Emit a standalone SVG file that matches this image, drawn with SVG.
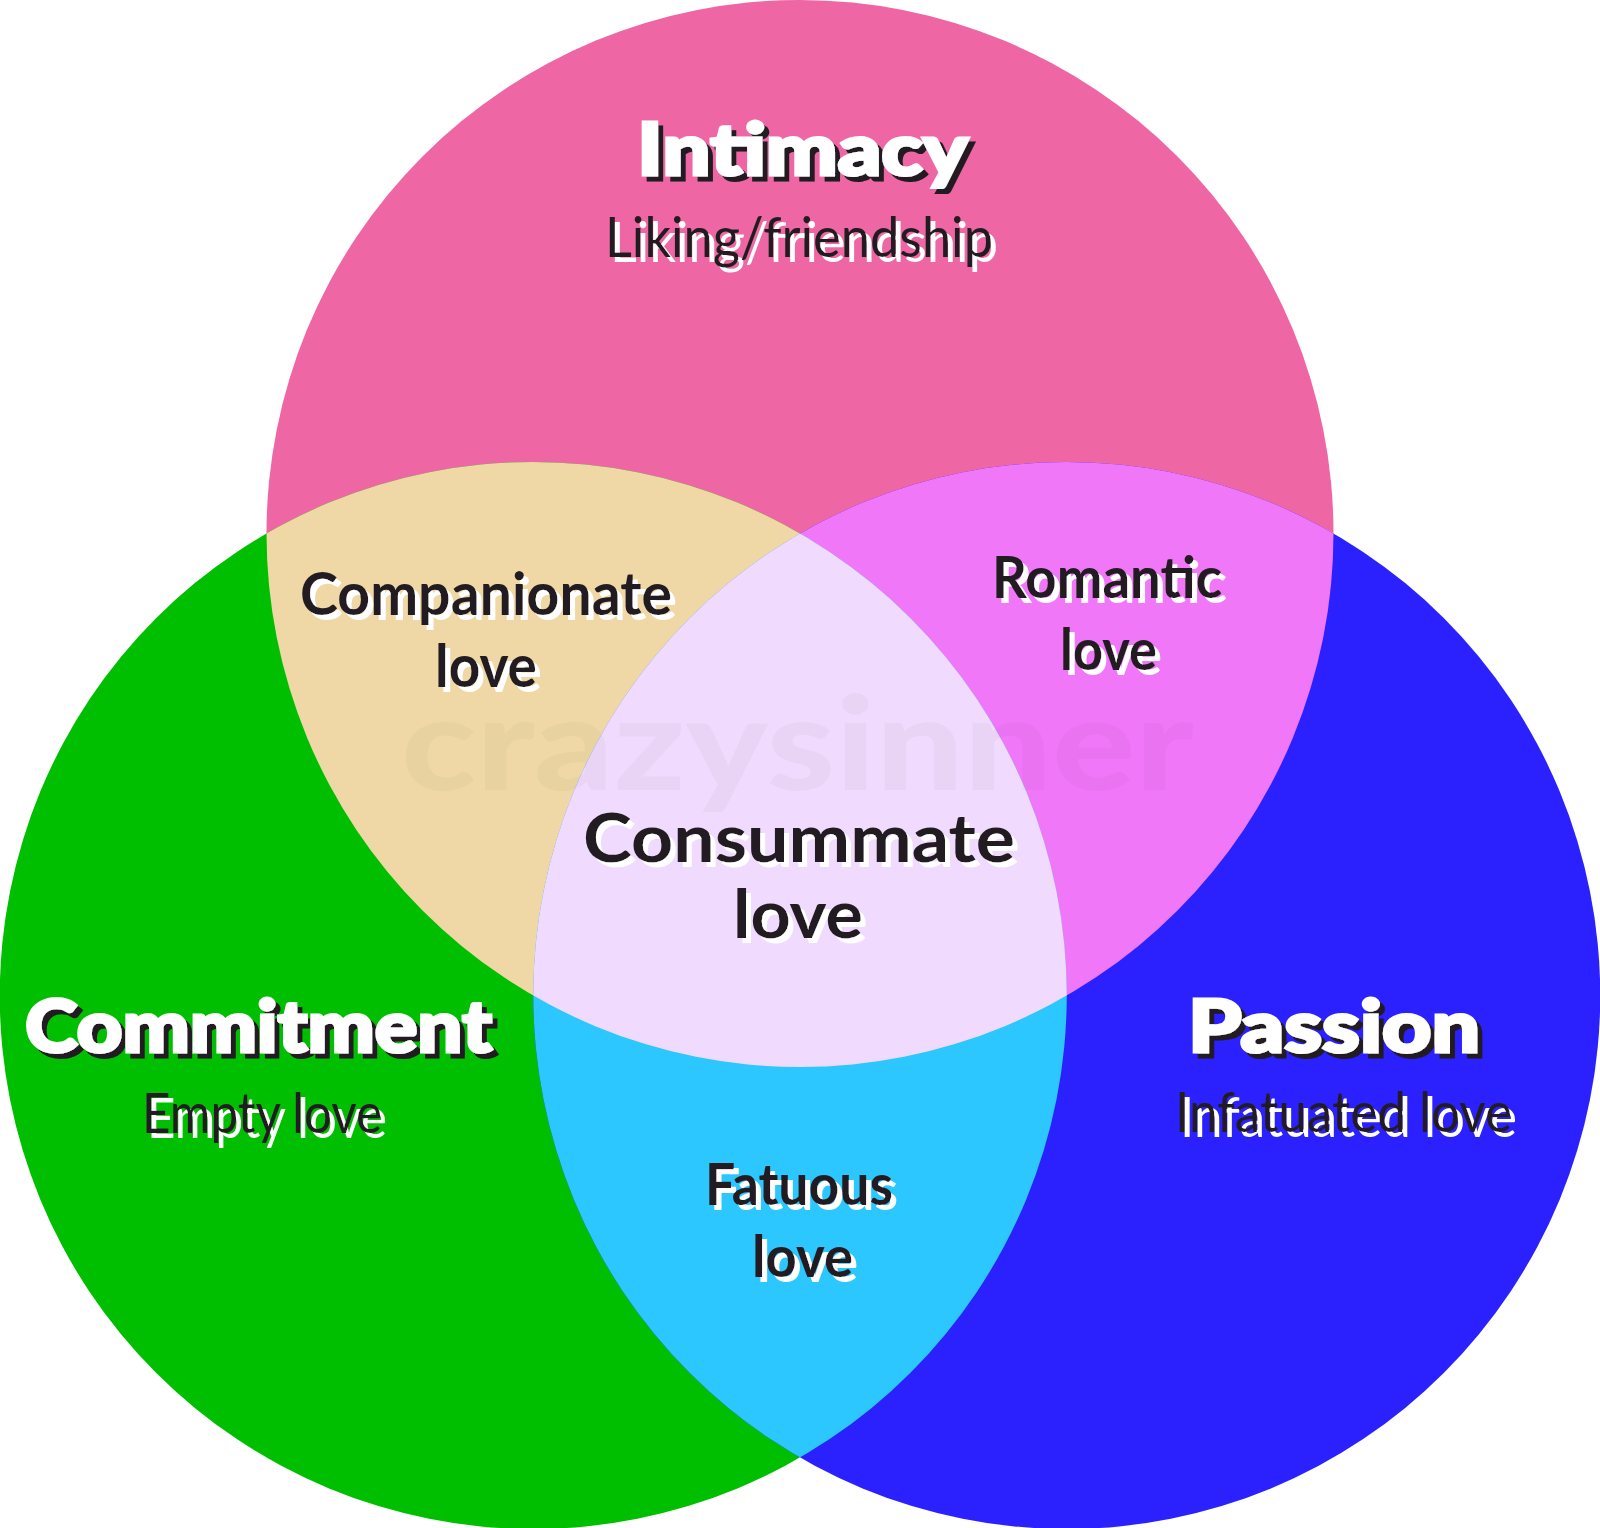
<svg xmlns="http://www.w3.org/2000/svg" width="1600" height="1528" viewBox="0 0 1600 1528">
  <style>
    .title { font-family: "Lato", "Liberation Sans", sans-serif; font-weight: 900; font-size: 72px; fill: #ffffff; stroke: #ffffff; stroke-width: 3px; filter: url(#shDark); }
    .sub { font-family: "Lato", "Liberation Sans", sans-serif; font-weight: 400; font-size: 57px; fill: #231f20; filter: url(#shLight); }
    .lbl { font-family: "Lato", "Liberation Sans", sans-serif; font-weight: 700; fill: #231f20; filter: url(#shLight); }
    .wm { font-family: "Lato", "Liberation Sans", sans-serif; font-weight: 900; font-size: 130px; fill: #000000; opacity: 0.022; }
  </style>
  <defs>
    <clipPath id="cTop"><circle cx="800" cy="533.5" r="533.5"/></clipPath>
    <clipPath id="cLeft"><circle cx="533.25" cy="995.5" r="533.5"/></clipPath>
    <filter id="shDark" x="-5%" y="-20%" width="115%" height="150%">
      <feDropShadow dx="5" dy="5" stdDeviation="0" flood-color="#231f20" flood-opacity="1"/>
    </filter>
    <filter id="shLight" x="-5%" y="-20%" width="115%" height="150%">
      <feDropShadow dx="5" dy="5" stdDeviation="0" flood-color="#ffffff" flood-opacity="1"/>
    </filter>
  </defs>
  <rect x="0" y="0" width="1600" height="1528" fill="#ffffff"/>

  <g id="circles">
    <circle id="intimacy-circle" cx="800" cy="533.5" r="533.5" fill="#EE67A4"/>
    <circle id="commitment-circle" cx="533.25" cy="995.5" r="533.5" fill="#00BE00"/>
    <circle id="passion-circle" cx="1066.75" cy="995.5" r="533.5" fill="#2B21FF"/>
    <g id="companionate-region" clip-path="url(#cTop)"><circle cx="533.25" cy="995.5" r="533.5" fill="#EFD8A5"/></g>
    <g id="romantic-region" clip-path="url(#cTop)"><circle cx="1066.75" cy="995.5" r="533.5" fill="#F177F9"/></g>
    <g id="fatuous-region" clip-path="url(#cLeft)"><circle cx="1066.75" cy="995.5" r="533.5" fill="#2CC7FF"/></g>
    <g id="consummate-region" clip-path="url(#cTop)"><g clip-path="url(#cLeft)"><circle cx="1066.75" cy="995.5" r="533.5" fill="#F0DAFD"/></g></g>
  </g>

  <text class="wm" x="401" y="790" textLength="793" lengthAdjust="spacingAndGlyphs">crazysinner</text>

  <g id="intimacy">
    <text class="title" x="637" y="175" textLength="331" lengthAdjust="spacingAndGlyphs">Intimacy</text>
    <text class="sub" x="605" y="257" textLength="388" lengthAdjust="spacingAndGlyphs">Liking/friendship</text>
  </g>

  <g id="commitment">
    <text class="title" x="25" y="1052" textLength="467" lengthAdjust="spacingAndGlyphs">Commitment</text>
    <text class="sub" x="142" y="1133" textLength="240" lengthAdjust="spacingAndGlyphs">Empty love</text>
  </g>

  <g id="passion">
    <text class="title" x="1188" y="1052" textLength="292" lengthAdjust="spacingAndGlyphs">Passion</text>
    <text class="sub" x="1175" y="1132" textLength="337" lengthAdjust="spacingAndGlyphs">Infatuated love</text>
  </g>

  <g id="companionate">
    <text class="lbl" x="300" y="615" font-size="60" textLength="372" lengthAdjust="spacingAndGlyphs">Companionate</text>
    <text class="lbl" x="435" y="687" font-size="60" textLength="102" lengthAdjust="spacingAndGlyphs">love</text>
  </g>

  <g id="romantic">
    <text class="lbl" x="992" y="598" font-size="58" textLength="230" lengthAdjust="spacingAndGlyphs">Romantic</text>
    <text class="lbl" x="1060" y="670" font-size="58" textLength="97" lengthAdjust="spacingAndGlyphs">love</text>
  </g>

  <g id="consummate">
    <text class="lbl" x="583" y="862" font-size="66" textLength="432" lengthAdjust="spacingAndGlyphs">Consummate</text>
    <text class="lbl" x="733" y="938" font-size="66" textLength="130" lengthAdjust="spacingAndGlyphs">love</text>
  </g>

  <g id="fatuous">
    <text class="lbl" x="705" y="1205" font-size="58" textLength="188" lengthAdjust="spacingAndGlyphs">Fatuous</text>
    <text class="lbl" x="752" y="1277" font-size="58" textLength="101" lengthAdjust="spacingAndGlyphs">love</text>
  </g>
</svg>
